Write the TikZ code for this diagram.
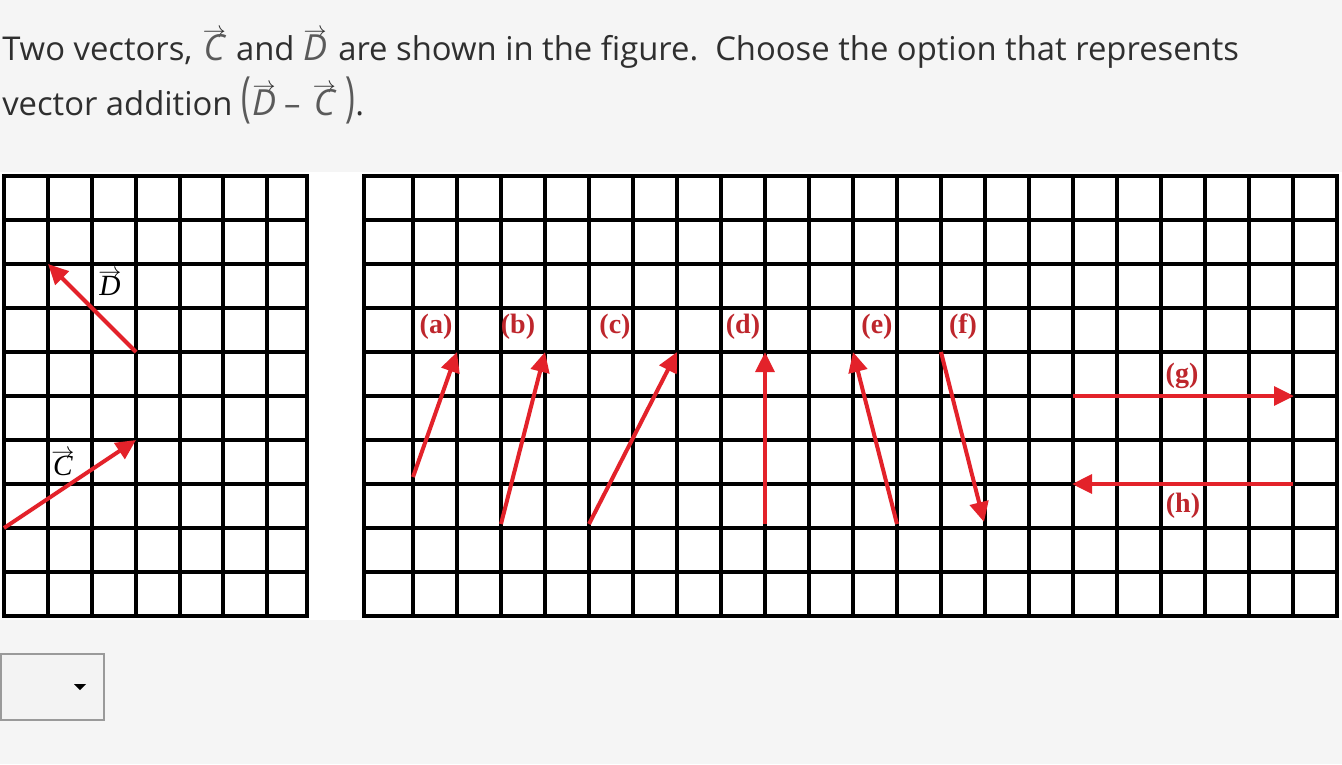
\documentclass[tikz,border=0pt]{standalone}
\usepackage{fontspec}
\usepackage{graphicx}
\setmainfont{Liberation Serif}
\newfontfamily\uifont{Open Sans}
\usetikzlibrary{arrows.meta}
\definecolor{pagebg}{HTML}{F5F5F5}
\definecolor{txt}{HTML}{2F2F2F}
\definecolor{vgray}{HTML}{5A5A5A}
\definecolor{vecred}{HTML}{E3222A}
\definecolor{labred}{HTML}{BE262C}
\definecolor{ddborder}{HTML}{9A9A9A}
\definecolor{ddfill}{HTML}{F3F3F3}
% arrow placed above content: #1 arrow size, #2 extra raise, #3 content
\newcommand\stackvec[3]{\mbox{\setbox0=\hbox{#3}\rlap{\hbox to \wd0{\hss\raisebox{\dimexpr\ht0+#2\relax}{\fontsize{#1}{#1}\selectfont$\rightarrow$}\hss}}\box0}}
\newcommand\tvec[1]{\stackvec{18}{-2.5pt}{{\color{vgray}\fontsize{27}{28}\selectfont\itshape #1}}}
\newcommand\gvec[1]{\stackvec{17}{-2pt}{{\itshape #1}}}
\newcommand\bigpar[1]{{\color{vgray}\scalebox{1}[1.65]{#1}}}
\begin{document}
\begin{tikzpicture}[x=0.75pt,y=-0.75pt,
  gridline/.style={line width=3.2pt, black, line cap=rect},
  vec/.style={line width=3pt, vecred, -{Triangle[length=15pt,width=14pt]}},
  optlabel/.style={text=labred, font=\fontsize{21}{22}\selectfont\bfseries, inner sep=0pt},
  veclabel/.style={font=\fontsize{22}{24}\selectfont, inner sep=0pt},
  title/.style={text=txt, font=\uifont\fontsize{24.6}{28}\selectfont, anchor=base west, inner sep=0pt}]
\useasboundingbox (0,0) rectangle (1342,764);
\fill[pagebg] (0,0) rectangle (1342,764);
\fill[white] (0,172) rectangle (1342,620);

% title
\node[title] (t1) at (2,60) {Two vectors,\hspace{2pt} \tvec{C}\hspace{2pt} and \tvec{D}\hspace{2pt} are shown in the figure.\ \ Choose the option that represents};
\node[title] (t2) at (2,115) {vector addition \bigpar{(}\hspace{1pt}\tvec{D}\hspace{6pt}{\color{vgray}\textendash}\hspace{10pt}\tvec{C}\hspace{8pt}\bigpar{)}.};

% left grid
\foreach \x in {4,48,92,136,180,223,267,307}
  \draw[gridline] (\x,176) -- (\x,616);
\foreach \y in {176,220,264,308,352,396,440,484,528,572,616}
  \draw[gridline] (4,\y) -- (307,\y);

% right grid
\foreach \x in {364,413,457,501,545,589,633,677,721,765,809,853,897,941,985,1029,1073,1117,1161,1205,1249,1293,1337}
  \draw[gridline] (\x,176) -- (\x,616);
\foreach \y in {176,220,264,308,352,396,440,484,528,572,616}
  \draw[gridline] (364,\y) -- (1337,\y);

% vectors C and D
\coordinate (Dtail) at (136,352);
\coordinate (Dtip) at (48,264);
\coordinate (Ctail) at (4,528);
\coordinate (Ctip) at (136,440);
\draw[vec] (Dtail) -- (Dtip);
\draw[vec] (Ctail) -- (Ctip);
\node[veclabel] (Dlab) at (110,283) {\gvec{D}};
\node[veclabel] (Clab) at (63,463) {\gvec{C}};

% options
\coordinate (a0) at (413,477); \coordinate (a1) at (457,352);
\coordinate (b0) at (501,524); \coordinate (b1) at (545,352);
\coordinate (c0) at (589,524); \coordinate (c1) at (677,352);
\coordinate (d0) at (765,524); \coordinate (d1) at (765,352);
\coordinate (e0) at (897,524); \coordinate (e1) at (853,352);
\coordinate (f0) at (941,352); \coordinate (f1) at (984,522);
\coordinate (g0) at (1073,396); \coordinate (g1) at (1294,396);
\coordinate (h0) at (1293,484); \coordinate (h1) at (1072,484);
\foreach \v in {a,b,c,d,e,f,g,h}
  \draw[vec] (\v0) -- (\v1);

\node[optlabel] (la) at (436,327) {(a)};
\node[optlabel] (lb) at (518,327) {(b)};
\node[optlabel] (lc) at (615,327) {(c)};
\node[optlabel] (ld) at (743,327) {(d)};
\node[optlabel] (le) at (877,327) {(e)};
\node[optlabel] (lf) at (963,327) {(f)};
\node[optlabel] (lg) at (1182,376) {(g)};
\node[optlabel] (lh) at (1183,506) {(h)};

% dropdown
\node[draw=ddborder, fill=ddfill, line width=1.5pt, minimum width=77pt, minimum height=50pt, inner sep=0pt] (dropdown) at (52.5,687) {};
\fill[black] (74,684) -- (86,684) -- (80,690) -- cycle;
\end{tikzpicture}
\end{document}
